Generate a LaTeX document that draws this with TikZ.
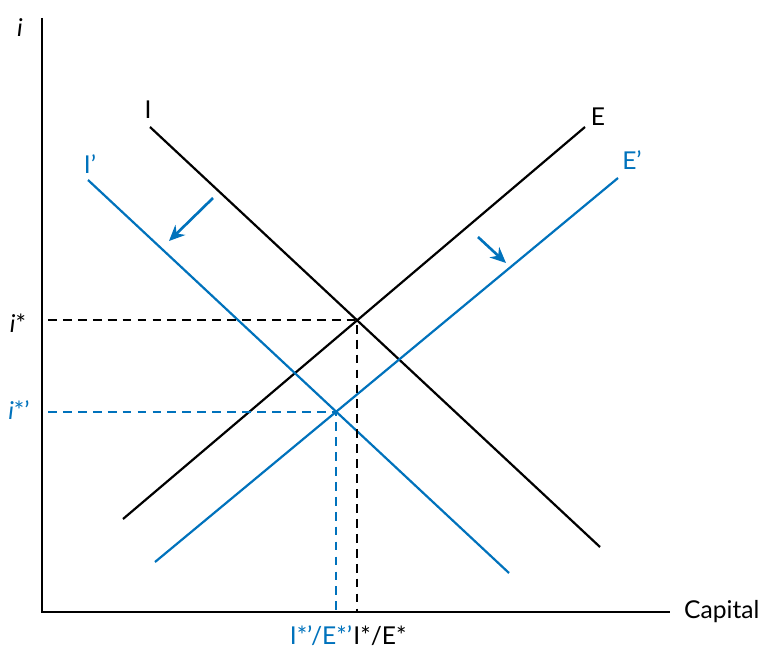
\documentclass[tikz,border=0pt]{standalone}
\usepackage{fontspec}
\setmainfont{Lato}
\usepackage{xcolor}
\usetikzlibrary{intersections,arrows.meta}
\definecolor{shiftblue}{RGB}{0,114,188}

\begin{document}
\begin{tikzpicture}[x=0.02cm,y=-0.02cm,
  every node/.style={font=\fontsize{14}{16}\selectfont},
  axisline/.style={black,line width=1.5pt},
  curve/.style={line width=1.25pt},
  guide/.style={line width=1.1pt,dash pattern=on 5pt off 3.5pt},
  shiftarrow/.style={shiftblue,line width=1.5pt,-{Stealth[length=9pt,width=8pt]}}]
  \useasboundingbox (0,0) rectangle (768,652);
  % axes
  \coordinate (O) at (42,612);
  \coordinate (ytop) at (42,18);
  \coordinate (xend) at (670,612);
  \coordinate (gstart) at (48,612);
  \draw[axisline] (ytop) -- (O) -- (xend);
  \node (ilab) at (20,28) {\textit{i}};
  \node[anchor=west] (caplab) at (678,612) {Capital};
  % original curves
  \draw[curve,name path=Iline] (150,127) coordinate (Ia) -- (600,547) coordinate (Ib);
  \draw[curve,name path=Eline] (123,519) coordinate (Ea) -- (585,127) coordinate (Eb);
  \node (Ilab) at (148,110) {I};
  \node (Elab) at (598,117) {E};
  % shifted curves
  \draw[curve,shiftblue,name path=Ipline] (88,180) coordinate (Ipa) -- (509,573) coordinate (Ipb);
  \draw[curve,shiftblue,name path=Epline] (155,562) coordinate (Epa) -- (618,178) coordinate (Epb);
  \node[shiftblue] (Iplab) at (90,164) {I’};
  \node[shiftblue] (Eplab) at (632,160) {E’};
  % equilibria
  \path[name intersections={of=Iline and Eline,by=eq}];
  \path[name intersections={of=Ipline and Epline,by=eqp}];
  \draw[guide] (gstart |- eq) -- (eq) -- (eq |- O);
  \draw[guide,shiftblue] (gstart |- eqp) -- (eqp) -- (eqp |- O);
  \node (istar) at (18,323) {\textit{i}*};
  \node[shiftblue] (istarp) at (19,410) {\textit{i}*’};
  \node (IEstar) at (380,636) {I*/E*};
  \node[shiftblue] (IEstarp) at (321,636) {I*’/E*’};
  % shift arrows
  \coordinate (sa1) at (213,198);
  \coordinate (sb1) at (169,241);
  \coordinate (sa2) at (478,237);
  \coordinate (sb2) at (506,263);
  \draw[shiftarrow] (sa1) -- (sb1);
  \draw[shiftarrow] (sa2) -- (sb2);
\end{tikzpicture}
\end{document}
